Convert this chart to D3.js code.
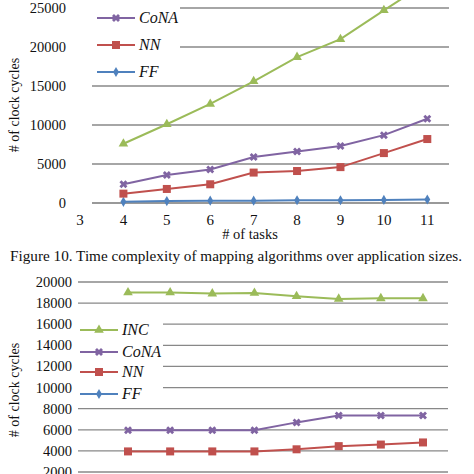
<!DOCTYPE html><html><head><meta charset="utf-8"><script src="https://cdn.jsdelivr.net/npm/d3@7"></script>
<style>body{margin:0;background:#fff}text{font-family:"Liberation Serif",Tinos,"Times New Roman",Times,serif;fill:#111}</style></head><body><svg id="c" width="474" height="474"></svg><script>
const tasks=[4,5,6,7,8,9,10,11];
const topXTicks=[3,4,5,6,7,8,9,10,11];
const topYTicks=[0,5000,10000,15000,20000,25000];
const topINC=[7600,10100,12700,15600,18700,21000,24700,28300];
const topCoNA=[2400,3600,4300,5900,6600,7300,8700,10800];
const topNN=[1200,1800,2400,3900,4100,4600,6400,8200];
const topFF=[150,250,300,300,350,350,400,450];
const botYTicks=[2000,4000,6000,8000,10000,12000,14000,16000,18000,20000];
const botINC=[19000,19000,18900,18950,18650,18400,18450,18450];
const botCoNA=[5950,5950,5950,5950,6700,7350,7350,7350];
const botNN=[3950,3950,3950,3950,4150,4450,4600,4800];
const botFF=[400,400,400,400,450,450,500,500];
const col={INC:"#9bbb59",CoNA:"#8064a2",NN:"#c0504d",FF:"#4f81bd"};
const svg=d3.select("#c");
function marker(g,type,x,y){
 const c=col[type];
 if(type==="INC") g.append("path").attr("d",d3.symbol(d3.symbolTriangle,40)()).attr("transform",`translate(${x},${y})`).attr("fill",c);
 else if(type==="NN") g.append("rect").attr("x",x-4).attr("y",y-4).attr("width",8).attr("height",8).attr("fill",c);
 else if(type==="FF") g.append("path").attr("d",d3.symbol(d3.symbolDiamond,30)()).attr("transform",`translate(${x},${y})`).attr("fill",c);
 else g.append("path").attr("d",d3.symbol(d3.symbolCross,40)()).attr("transform",`translate(${x},${y}) rotate(45)`).attr("fill",c);
}
function series(g,xs,ys,data,type,x,y){
 const line=d3.line().x((d,i)=>x(xs[i])).y(d=>y(d));
 g.append("path").attr("d",line(data)).attr("fill","none").attr("stroke",col[type]).attr("stroke-width",2);
 data.forEach((d,i)=>marker(g,type,x(xs[i]),y(d)));
}
function legend(items,x0,y0s){
 items.forEach((t,i)=>{const y=y0s[i];
  svg.append("line").attr("x1",x0).attr("x2",x0+38).attr("y1",y).attr("y2",y).attr("stroke",col[t]).attr("stroke-width",2);
  marker(svg,t,x0+19,y);
  svg.append("text").attr("x",x0+42).attr("y",y+5).attr("font-size",16).attr("font-style","italic").text(t);});
}
{const x=d3.scaleLinear().domain([3,11.5]).range([80,449]);
 const y=d3.scaleLinear().domain([0,25000]).range([203,8]);
 svg.append("defs").append("clipPath").attr("id","ct").append("rect").attr("x",0).attr("y",0).attr("width",474).attr("height",210);
 const g=svg.append("g");
 topYTicks.forEach(v=>{g.append("line").attr("x1",92).attr("x2",449).attr("y1",y(v)).attr("y2",y(v)).attr("stroke",v===0?"#777":"#888").attr("stroke-width",1.3);
  g.append("text").attr("x",66).attr("y",y(v)+5).attr("text-anchor","end").attr("font-size",14.5).text(v);});
 topXTicks.forEach(v=>g.append("text").attr("x",x(v)).attr("y",225).attr("text-anchor","middle").attr("font-size",15).text(v));
 g.append("rect").attr("x",90).attr("y",5).attr("width",90).attr("height",80).attr("fill","#fff");
 const s=g.append("g").attr("clip-path","url(#ct)");
 series(s,tasks,tasks,topFF,"FF",x,y);series(s,tasks,tasks,topNN,"NN",x,y);series(s,tasks,tasks,topCoNA,"CoNA",x,y);series(s,tasks,tasks,topINC,"INC",x,y);
 g.append("text").attr("transform","translate(19,105) rotate(-90)").attr("text-anchor","middle").attr("font-size",14).text("# of clock cycles");
 g.append("text").attr("x",250).attr("y",239).attr("text-anchor","middle").attr("font-size",14.5).text("# of tasks");
 legend(["CoNA","NN","FF"],97,[18,45,72]);
}
svg.append("text").attr("x",10).attr("y",261).attr("textLength",452).attr("lengthAdjust","spacingAndGlyphs").attr("font-size",15).text("Figure 10.  Time complexity of mapping algorithms over application sizes.");
{const idx=[0,1,2,3,4,5,6,7];
 const x=d3.scaleLinear().domain([0,7]).range([128,423]);
 const y=d3.scaleLinear().domain([2000,20000]).range([472,282]);
 svg.append("defs").append("clipPath").attr("id","cb").append("rect").attr("x",0).attr("y",275).attr("width",474).attr("height",199);
 const g=svg.append("g");
 botYTicks.forEach(v=>{g.append("line").attr("x1",78).attr("x2",448).attr("y1",y(v)).attr("y2",y(v)).attr("stroke","#888").attr("stroke-width",1.3);
  g.append("text").attr("x",72).attr("y",y(v)+5).attr("text-anchor","end").attr("font-size",14.5).text(v);});
 g.append("rect").attr("x",78).attr("y",318).attr("width",85).attr("height",86).attr("fill","#fff");
 const s=g.append("g").attr("clip-path","url(#cb)");
 series(s,idx,idx,botFF,"FF",x,y);series(s,idx,idx,botNN,"NN",x,y);series(s,idx,idx,botCoNA,"CoNA",x,y);series(s,idx,idx,botINC,"INC",x,y);
 g.append("text").attr("transform","translate(19,390) rotate(-90)").attr("text-anchor","middle").attr("font-size",14).text("# of clock cycles");
 legend(["INC","CoNA","NN","FF"],80,[330,352,372,394]);
}
</script></body></html>
